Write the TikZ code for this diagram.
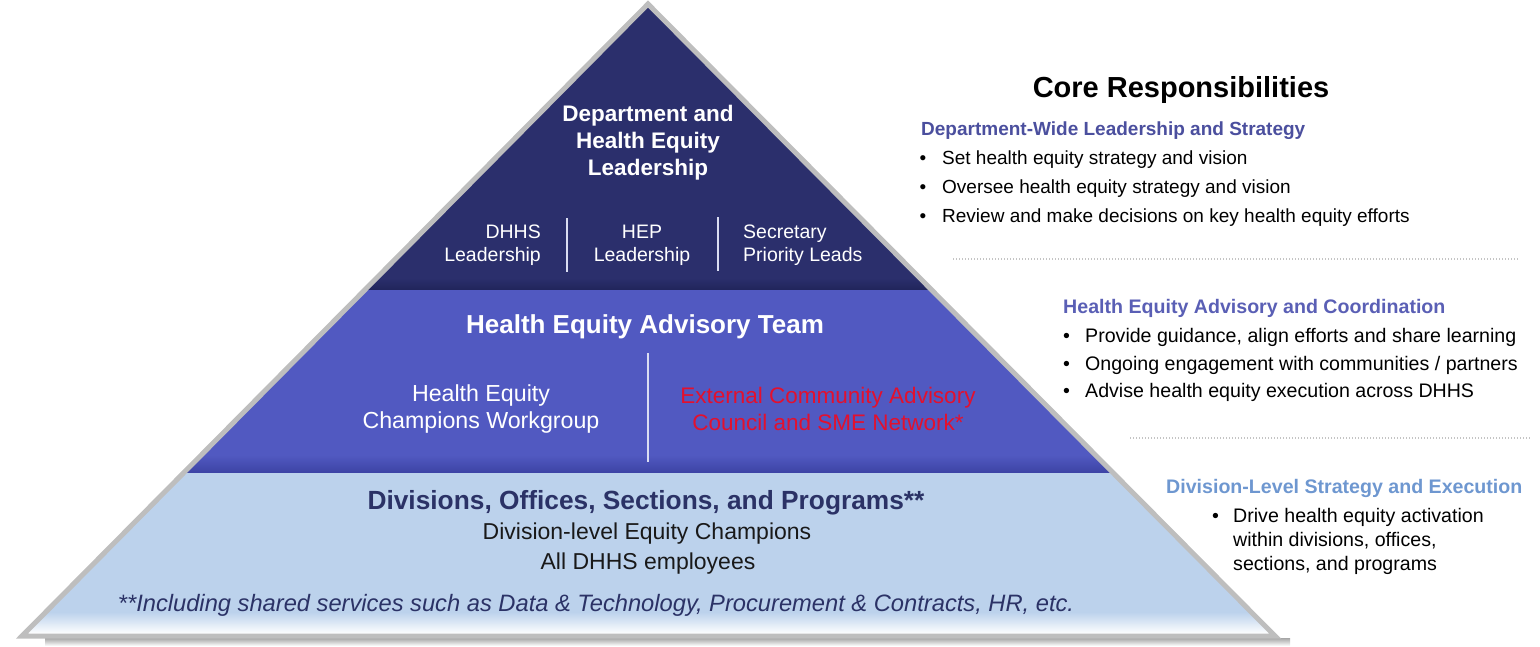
\documentclass[tikz,border=0pt]{standalone}
\usepackage{fontspec}
\setmainfont{Liberation Sans}
\definecolor{navy}{HTML}{2B2F6C}
\definecolor{navydark}{HTML}{20245A}
\definecolor{midblue}{HTML}{5159C1}
\definecolor{middark}{HTML}{3C43A4}
\definecolor{lightblue}{HTML}{BCD2EC}
\definecolor{bordergray}{HTML}{BEBEBE}
\definecolor{bottomtext}{HTML}{2B3266}
\definecolor{sepline}{HTML}{DADDF2}
\definecolor{redtext}{HTML}{E3102E}
\definecolor{headA}{HTML}{4B4F9E}
\definecolor{headB}{HTML}{5A5FB5}
\definecolor{headC}{HTML}{6E97D0}
\definecolor{dotgray}{HTML}{C4C4C4}
\begin{document}
\begin{tikzpicture}[x=1pt,y=-1pt,
  whitebold/.style={text=white,font=\bfseries\fontsize{#1}{27}\selectfont,align=center,inner sep=0pt},
  sublabel/.style={text=white,font=\fontsize{19.5}{23}\selectfont,inner sep=0pt},
  sepv/.style={draw=sepline,line width=2pt},
  head/.style={font=\bfseries\fontsize{#1}{23}\selectfont,anchor=base west,inner sep=0pt},
  bul/.style={font=\fontsize{#1}{24}\selectfont,anchor=base west,inner sep=0pt,text=black},
  dotsep/.style={draw=dotgray,line width=1.4pt,dash pattern=on 1.4pt off 1.6pt}
]
\useasboundingbox (0,0) rectangle (1540,646);
% pyramid geometry
\coordinate (apex) at (648,4);
\coordinate (bl) at (22,636);
\coordinate (br) at (1275,636);
% shadow under base
\shade[top color=black!35,bottom color=white] (45,638) rectangle (1290,646);
\begin{scope}
  \clip (apex) -- (bl) -- (br) -- cycle;
  \fill[navy] (0,0) rectangle (1540,290);
  \shade[top color=navy,bottom color=navydark] (0,278) rectangle (1540,290);
  \fill[midblue] (0,290) rectangle (1540,473);
  \shade[top color=midblue,bottom color=middark] (0,455) rectangle (1540,473);
  \fill[lightblue] (0,473) rectangle (1540,640);
  \shade[top color=lightblue,bottom color=white] (0,612) rectangle (1540,634);
\end{scope}
\draw[bordergray,line width=5pt,line join=miter] (apex) -- (bl) -- (br) -- cycle;

% top band
\node[whitebold=22.5] (lead) at (648,143) {Department and\\Health Equity\\Leadership};
\node[sublabel,anchor=east,align=right] (dhhs) at (541,245) {DHHS\\Leadership};
\node[sublabel,align=center] (hep) at (642,245) {HEP\\Leadership};
\node[sublabel,anchor=west,align=left] (sec) at (743,245) {Secretary\\Priority Leads};
\coordinate (v1t) at (567,218); \coordinate (v1b) at (567,272);
\coordinate (v2t) at (718,217); \coordinate (v2b) at (718,271);
\draw[sepv] (v1t) -- (v1b);
\draw[sepv] (v2t) -- (v2b);

% middle band
\node[whitebold=26] (heat) at (645,327) {Health Equity Advisory Team};
\node[text=white,font=\fontsize{23.2}{27}\selectfont,align=center,inner sep=0pt] (champ) at (481,409) {Health Equity\\Champions Workgroup};
\node[text=redtext,font=\fontsize{22.5}{27}\selectfont,align=center,inner sep=0pt] (ext) at (828,409) {External Community Advisory\\Council and SME Network*};
\coordinate (v3t) at (648,353); \coordinate (v3b) at (648,462);
\draw[sepv] (v3t) -- (v3b);

% bottom band
\node[text=bottomtext,font=\bfseries\fontsize{26.3}{30}\selectfont,inner sep=0pt] (div) at (646,503) {Divisions, Offices, Sections, and Programs**};
\node[text=black!90,font=\fontsize{23}{26}\selectfont,inner sep=0pt] (dlec) at (647,534) {Division-level Equity Champions};
\node[text=black!90,font=\fontsize{23}{26}\selectfont,inner sep=0pt] (all) at (648,564) {All DHHS employees};
\node[text=bottomtext,font=\itshape\fontsize{23.7}{26}\selectfont,inner sep=0pt] (incl) at (596,605) {**Including shared services such as Data \& Technology, Procurement \& Contracts, HR, etc.};

% right side
\node[font=\bfseries\fontsize{29}{34}\selectfont,anchor=base,inner sep=0pt] (core) at (1181,97) {Core Responsibilities};

\node[head=19,text=headA] (h1) at (921,135) {Department-Wide Leadership and Strategy};
\node[bul=19] (b11) at (919.5,164) {\makebox[22.5pt][l]{•}Set health equity strategy and vision};
\node[bul=19] (b12) at (919.5,193) {\makebox[22.5pt][l]{•}Oversee health equity strategy and vision};
\node[bul=19] (b13) at (919.5,222) {\makebox[22.5pt][l]{•}Review and make decisions on key health equity efforts};
\coordinate (d1a) at (953,259); \coordinate (d1b) at (1518,259);
\draw[dotsep] (d1a) -- (d1b);

\node[head=19.6,text=headB] (h2) at (1063,313) {Health Equity Advisory and Coordination};
\node[bul=19.6] (b21) at (1063,342) {\makebox[22pt][l]{•}Provide guidance, align efforts and share learning};
\node[bul=19.6] (b22) at (1063,370) {\makebox[22pt][l]{•}Ongoing engagement with communities / partners};
\node[bul=19.6] (b23) at (1063,397) {\makebox[22pt][l]{•}Advise health equity execution across DHHS};
\coordinate (d2a) at (1130,438); \coordinate (d2b) at (1530,438);
\draw[dotsep] (d2a) -- (d2b);

\node[head=19.6,text=headC] (h3) at (1166,493) {Division-Level Strategy and Execution};
\node[bul=19.6] (b31) at (1212,522) {\makebox[21pt][l]{•}Drive health equity activation};
\node[bul=19.6] (b32) at (1233,546) {within divisions, offices,};
\node[bul=19.6] (b33) at (1233,570) {sections, and programs};
\end{tikzpicture}
\end{document}
